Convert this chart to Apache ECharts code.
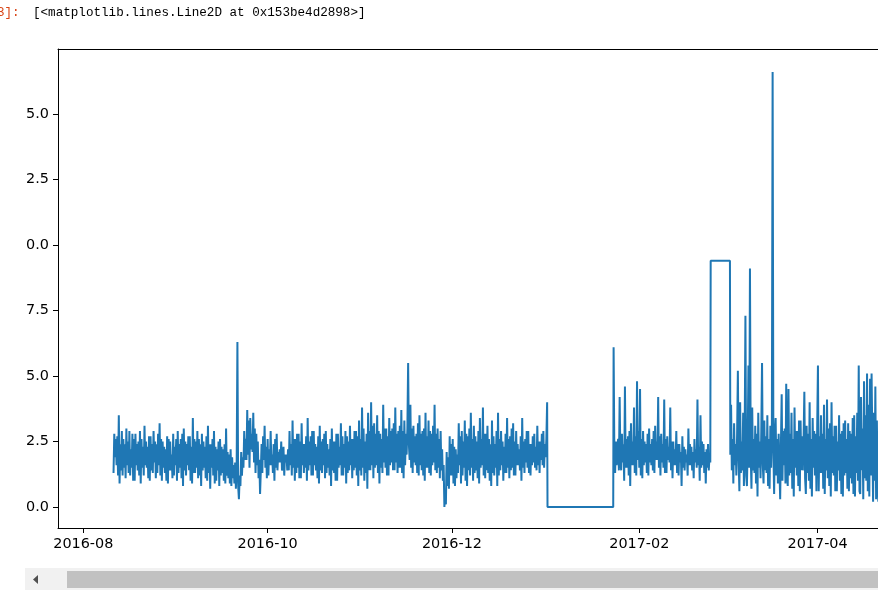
<!DOCTYPE html>
<html>
<head>
<meta charset="utf-8">
<script src="https://cdn.jsdelivr.net/npm/echarts@6/dist/echarts.min.js"></script>
<style>
html,body{margin:0;padding:0;background:#fff;}
#chart{width:878px;height:590px;}
</style>
</head>
<body>
<div id="chart"></div>
<script>
// ---- data (6-hour samples, one line per day) ----
const segAStart = '2016-08-11T00:00';
const segAValues = [
1.3,2.8,1.9,2.6, 1.6,2.7,1.2,3.5, 0.9,2.4,1.4,2.9, 1.2,2.6,1.5,2.4, 1.1,3.0,1.6,2.5, 1.3,2.9,1.2,2.2, 1.5,2.8,1.0,2.6,
1.0,2.8,1.6,2.4, 1.4,2.5,1.2,2.9, 0.9,2.6,1.5,2.3, 1.2,3.1,1.6,2.5, 1.5,2.3,1.1,2.7, 1.0,2.7,1.4,2.4, 1.3,2.9,1.7,2.5,
1.1,2.4,1.3,2.8, 1.6,3.2,1.2,2.6, 1.0,2.5,1.5,2.3, 1.3,2.2,1.0,2.7, 0.9,2.6,1.4,2.5, 1.4,2.0,1.1,2.8, 1.2,2.3,1.6,2.6,
1.0,2.9,1.3,2.4, 1.5,2.6,1.1,2.8, 0.8,3.0,1.4,2.5, 1.2,2.4,1.6,2.7, 1.4,2.7,1.0,2.3, 0.9,3.4,1.3,2.6, 1.3,2.5,1.5,2.9,
1.1,2.6,1.2,2.4, 0.8,2.8,1.4,2.5, 1.5,2.3,1.1,2.7, 1.0,3.1,1.3,2.4, 0.7,2.4,1.5,2.6, 1.2,2.9,0.9,2.3, 1.0,2.2,1.4,2.5,
0.8,2.6,1.2,2.3, 1.3,2.2,1.0,2.4, 0.9,3.0,1.2,2.1, 1.1,2.0,0.9,2.2, 0.8,1.9,1.1,1.6, 0.9,1.7,0.7,1.5,
6.3,0.8,0.3,1.2,
0.8,2.1,1.2,1.9, 1.5,2.9,1.8,2.6, 1.8,3.7,2.0,3.3, 1.5,3.4,2.2,2.8, 2.1,3.6,1.7,3.0, 1.3,2.8,1.6,2.5, 1.1,1.8,0.5,1.4,
2.4,1.3,2.7,1.8, 3.1,1.5,2.3,1.1, 2.6,1.2,2.2,1.6, 2.9,1.6,2.0,1.3, 2.4,1.0,2.6,1.5, 2.8,1.4,2.1,1.7, 2.2,1.7,2.5,1.4,
1.5,2.3,1.2,2.0, 1.7,2.0,1.4,2.2, 1.4,2.9,1.6,2.4, 1.2,3.3,1.5,2.6, 1.0,2.6,1.3,2.8, 1.5,2.8,1.1,2.5, 1.1,3.2,1.6,2.4,
1.3,2.4,1.5,2.7, 1.0,3.4,1.4,2.5, 1.6,2.7,1.2,2.9, 1.2,2.9,1.6,2.4, 1.4,2.3,1.1,2.7, 0.9,3.1,1.4,2.5, 1.3,2.6,1.6,2.8,
1.1,2.9,1.3,2.4, 1.5,2.2,1.2,2.6, 0.8,3.0,1.4,2.5, 1.3,2.5,1.0,2.8, 1.0,2.8,1.5,2.3, 1.6,3.2,1.2,2.7, 1.2,2.4,1.5,2.9,
0.9,2.7,1.3,2.5, 1.4,3.1,1.6,2.6, 1.1,2.6,1.4,2.9, 1.5,2.9,1.2,2.7, 0.8,3.3,1.4,2.6, 1.2,3.8,1.5,3.0, 1.0,2.5,1.3,2.8,
0.7,3.6,1.4,2.9, 1.4,4.0,1.6,3.1, 1.1,3.2,1.5,2.8, 1.6,3.5,1.3,2.9, 0.9,2.8,1.5,2.6, 1.3,3.9,1.7,3.0, 1.5,3.0,1.2,2.7,
1.2,3.4,1.6,2.9, 1.7,3.0,1.4,3.2, 1.4,3.8,1.7,2.8, 1.3,2.9,1.5,3.1, 1.5,3.7,1.3,2.9, 1.1,3.3,1.6,2.8, 2.0,3.0,5.5,2.4,
1.8,3.9,1.5,3.0, 1.3,3.1,1.7,2.7, 1.6,2.8,1.3,3.2, 1.2,3.5,1.6,2.8, 1.4,2.9,1.2,3.0, 1.0,3.6,1.5,2.7, 1.5,3.3,1.3,2.9,
1.2,2.8,1.6,3.1, 1.7,3.9,1.4,2.8, 1.3,3.0,1.5,2.6, 1.1,2.9,1.4,2.2, 1.0,1.6,0.0,0.6, 0.1,2.1,0.8,1.9, 0.7,2.7,1.2,2.4,
1.2,2.6,0.9,2.3, 0.8,2.2,1.1,2.0, 1.3,3.2,1.6,2.7, 0.9,2.9,1.2,2.5, 1.5,3.3,1.0,2.8, 0.8,2.7,1.4,3.0, 1.2,3.6,1.5,2.6,
1.0,3.1,1.3,2.7, 1.4,2.5,1.1,2.9, 0.9,3.4,1.5,2.6, 1.6,3.8,1.2,2.8, 1.1,2.8,1.4,3.1, 1.3,2.6,1.0,2.4, 0.8,3.3,1.3,2.7,
1.2,2.4,1.5,2.9, 0.8,3.6,1.2,2.6, 1.4,2.9,1.6,2.5, 1.0,2.3,1.3,2.8, 1.3,3.4,1.5,2.6, 1.1,2.7,1.4,3.0, 1.5,3.2,1.2,2.5,
1.2,2.9,1.6,2.4, 1.6,2.2,1.4,2.7, 1.0,3.4,1.5,2.5, 1.3,2.6,1.7,2.9, 1.5,2.9,1.3,2.4, 1.2,2.4,1.6,2.7, 1.7,2.8,1.5,2.3,
1.4,3.1,1.6,2.5, 1.3,2.5,1.8,2.8, 1.6,2.9,1.5,2.4, 1.9,2.6,4.0
];
const lowFlatStart = '2017-01-01T15:00';
const lowFlatEnd = '2017-01-23T09:00';
const lowFlatValue = 0.0;
const segBStart = '2017-01-23T12:00';
const segBValues = [
6.1,2.0,
1.3,2.5,1.6,2.2, 2.6,1.4,4.2,1.8, 1.4,2.8,1.7,2.4, 1.0,4.6,1.5,2.6, 1.5,2.7,1.2,2.9, 0.8,3.2,1.6,2.5, 1.6,3.8,1.3,2.7,
1.2,4.8,1.8,2.9, 1.5,4.5,1.2,2.6, 1.1,2.9,1.6,2.5, 1.7,2.4,1.3,2.8, 1.2,3.0,1.7,2.4, 1.6,2.6,1.4,2.9, 1.3,3.1,1.8,2.5,
1.8,4.2,1.5,2.7, 1.2,2.8,1.7,2.4, 1.5,4.1,1.3,2.6, 1.3,2.7,1.8,2.3, 1.7,3.8,1.4,2.5, 1.1,2.5,1.6,2.2, 1.6,2.9,1.3,2.4,
1.2,2.4,1.7,2.1, 0.8,2.7,1.5,2.3, 1.4,2.2,1.7,2.0, 1.2,3.0,1.6,2.4, 1.6,2.3,1.4,2.1, 1.1,2.6,1.7,2.2, 1.5,4.1,1.6,2.3,
1.0,3.5,1.5,2.5, 1.6,2.4,1.3,2.1, 0.9,2.2,1.5,2.4, 1.4,2.0,1.7
];
const highFlatStart = '2017-02-24T15:00';
const highFlatEnd = '2017-03-03T00:00';
const highFlatValue = 9.4;
const segCStart = '2017-03-03T03:00';
const segCValues = [
2.0,3.9,1.4,2.6, 0.9,3.2,1.6,2.4, 1.2,2.8,5.2,1.8, 0.6,4.0,1.3,2.5, 1.4,3.6,0.8,2.7, 7.3,1.2,0.8,2.4, 5.4,1.5,9.1,2.0,
0.7,3.8,1.4,2.6, 1.3,3.1,0.9,2.8, 0.4,3.6,1.5,2.5, 1.1,2.9,5.5,1.6, 0.9,3.3,1.4,2.7, 1.3,3.5,0.8,2.6, 0.7,3.1,1.5,2.9,
16.6,2.2,0.5,2.8, 3.4,1.2,2.6,0.9, 2.8,1.5,0.3,2.4, 4.3,1.0,2.9,1.6, 3.0,0.9,4.7,1.4, 0.8,4.5,1.2,2.8, 1.3,3.6,0.7,2.6,
0.4,3.8,1.5,2.9, 1.2,2.9,0.8,3.3, 0.6,3.3,1.4,2.7, 1.4,2.6,4.4,1.1, 0.5,3.1,1.3,2.8, 1.0,4.0,0.7,2.6, 0.4,3.4,1.5,2.9,
1.2,2.8,0.6,3.0, 5.4,0.6,2.7,1.3, 3.5,1.3,2.8,0.7, 3.9,0.5,2.6,1.4, 4.1,1.1,3.0,0.8, 3.2,0.4,4.0,1.3, 2.7,1.2,3.1,0.6,
3.1,0.6,2.5,1.4, 3.5,1.0,2.8,0.5, 2.9,0.4,3.2,1.2, 3.3,1.3,2.6,0.7, 3.2,0.6,2.9,1.1, 2.8,0.9,3.4,0.5, 3.5,0.4,2.7,1.3,
3.6,1.0,5.4,0.6, 0.5,4.2,1.4,3.0, 0.3,4.8,1.1,3.5, 1.0,5.1,0.6,3.9, 0.4,4.9,1.2,5.1, 5.1,0.2,3.6,1.0, 4.6,0.3,3.3,0.8,
0.2
];
const xTickDates = ['2016-08-01','2016-10-01','2016-12-01','2017-02-01','2017-04-01'];
const xTickLabels = ['2016-08','2016-10','2016-12','2017-02','2017-04'];
const yTickValues = [0,2.5,5,7.5,10,12.5,15];
const yTickLabels = ['0.0','2.5','5.0','7.5','0.0','2.5','5.0'];
const xMinDate = '2016-07-23T15:00';
const xMaxDate = '2017-04-21T00:00';
const yMin = -0.8, yMax = 17.48;
const cellOutput = '[<matplotlib.lines.Line2D at 0x153be4d2898>]';
const cellPrompt = '3]:';

// ---- helpers ----
function ts(s){
  const parts = s.split('T');
  const d = parts[0].split('-').map(Number);
  let hh = 0, mm = 0;
  if (parts[1]) { const h = parts[1].split(':').map(Number); hh = h[0]; mm = h[1]; }
  return new Date(d[0], d[1]-1, d[2], hh, mm).getTime();
}
const STEP = 6*3600*1000;
function seg(start, vals){ const t0 = ts(start); return vals.map((v,i)=>[t0 + i*STEP, v]); }

const data = [].concat(
  seg(segAStart, segAValues),
  [[ts(lowFlatStart), lowFlatValue],[ts(lowFlatEnd), lowFlatValue]],
  seg(segBStart, segBValues),
  [[ts(highFlatStart), highFlatValue],[ts(highFlatEnd), highFlatValue]],
  seg(segCStart, segCValues)
);
const xTickTimes = xTickDates.map(ts);

const FONT = 'DejaVu Sans';
const chart = echarts.init(document.getElementById('chart'), null, {renderer:'canvas'});
chart.setOption({
  animation:false,
  backgroundColor:'#fff',
  grid:{left:58,right:0,top:49,bottom:62},
  xAxis:[{
    type:'value', min:ts(xMinDate), max:ts(xMaxDate), scale:true,
    axisLine:{show:true,onZero:false,lineStyle:{color:'#000',width:1}},
    axisTick:{show:true,length:5,lineStyle:{color:'#000',width:1},customValues:xTickTimes},
    axisLabel:{show:true,color:'#000',fontFamily:FONT,fontSize:14.4,margin:9,customValues:xTickTimes,
      formatter:function(v){ for(let i=0;i<xTickTimes.length;i++){ if(Math.abs(xTickTimes[i]-v)<60000) return xTickLabels[i]; } return ''; }},
    splitLine:{show:false}
  },{
    type:'value', position:'top', min:ts(xMinDate), max:ts(xMaxDate), scale:true,
    axisLine:{show:true,onZero:false,lineStyle:{color:'#000',width:1}},
    axisTick:{show:false}, axisLabel:{show:false}, splitLine:{show:false}
  }],
  yAxis:{
    type:'value', min:yMin, max:yMax,
    axisLine:{show:true,onZero:false,lineStyle:{color:'#000',width:1}},
    axisTick:{show:true,length:5,lineStyle:{color:'#000',width:1},customValues:yTickValues},
    axisLabel:{show:true,color:'#000',fontFamily:FONT,fontSize:14.4,margin:9,customValues:yTickValues,
      formatter:function(v){ const i = yTickValues.indexOf(v); return i>=0 ? yTickLabels[i] : ''; }},
    splitLine:{show:false}
  },
  series:[{
    type:'line', xAxisIndex:0, data:data, showSymbol:false, symbol:'none',
    lineStyle:{color:'#1f77b4',width:2}, clip:true
  }],
  graphic:[
    {type:'text', left:-3, top:6, style:{text:cellPrompt, fill:'#d84315', font:'12.6px "Liberation Mono"'}},
    {type:'text', left:33, top:6, style:{text:cellOutput, fill:'#000', font:'12.6px "Liberation Mono"'}},
    {type:'rect', shape:{x:25,y:568,width:853,height:22}, style:{fill:'#f1f1f1'}},
    {type:'rect', shape:{x:67,y:571,width:811,height:17}, style:{fill:'#c1c1c1'}},
    {type:'polygon', shape:{points:[[38,575],[38,584],[33,579.5]]}, style:{fill:'#505050'}}
  ]
});
</script>
</body>
</html>
